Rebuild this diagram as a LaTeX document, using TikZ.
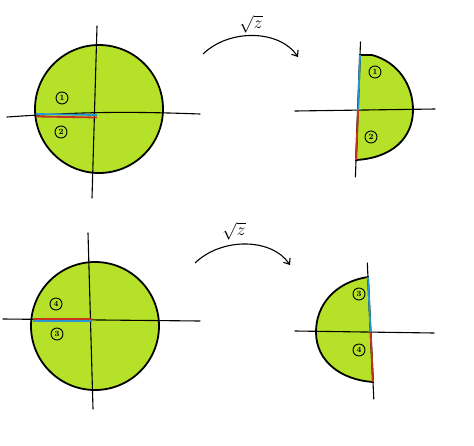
\documentclass[tikz,border=0pt]{standalone}
\usetikzlibrary{arrows.meta}
\definecolor{lime}{RGB}{181,226,40}
\definecolor{segblue}{RGB}{40,150,210}
\definecolor{segred}{RGB}{200,50,30}
\tikzset{
  disc/.style={fill=lime,draw=black,line width=1.8pt},
  axis/.style={draw=black,line width=1.1pt,line cap=round},
  bluseg/.style={draw=segblue,line width=1.8pt},
  redseg/.style={draw=segred,line width=1.8pt},
  num/.style={circle,draw=black,line width=0.9pt,inner sep=0.6pt,minimum size=12pt,font=\fontsize{8}{8}\selectfont\bfseries},
  maparrow/.style={draw=black,line width=1.1pt,-{Straight Barb[length=5pt,width=8pt]}},
  maplabel/.style={inner sep=0pt,font=\fontsize{17}{17}\selectfont}
}
\begin{document}
\begin{tikzpicture}[x=1pt,y=-1pt]
\useasboundingbox (0,0) rectangle (474,445);
% ---------- top left disc
\node[disc,circle,minimum size=128pt,inner sep=0pt] (d1) at (99,109) {};
\coordinate (h1l) at (7,117); \coordinate (h1r) at (200,114);
\coordinate (v1t) at (97,26); \coordinate (v1b) at (92,198);
\draw[axis] (h1l) to[bend left=3] (h1r);
\draw[axis] (v1t) -- (v1b);
\coordinate (e1b) at (36,114); \coordinate (o1b) at (97,115);
\coordinate (e1r) at (36,116.5); \coordinate (o1r) at (97,117.5);
\draw[bluseg] (e1b) -- (o1b);
\draw[redseg] (e1r) -- (o1r);
\node[num] (n1a) at (62,98) {1};
\node[num] (n1b) at (61,132) {2};
% ---------- top arrow
\coordinate (a1s) at (203,54); \coordinate (a1e) at (298,57);
\draw[maparrow] (a1s) .. controls (230,28) and (280,30) .. (a1e);
\node[maplabel] (l1) at (251,24) {$\sqrt{z}$};
% ---------- top right half disc
\coordinate (t1) at (360,55); \coordinate (b1) at (356,160); \coordinate (o2) at (358.1,110);
\path[disc] (t1) -- (372,55) .. controls (398,62) and (413,85) .. (413,110)
  .. controls (413,138) and (392,158) .. (b1) -- cycle;
\draw[axis] (295,111) -- (435,109);
\draw[axis] (360.5,42) -- (355.4,177);
\draw[bluseg] (t1) -- (o2);
\draw[redseg] (o2) -- (b1);
\node[num] (n2a) at (375,72) {1};
\node[num] (n2b) at (371,137) {2};
% ---------- bottom left disc
\node[disc,circle,minimum size=128pt,inner sep=0pt] (d3) at (95,326) {};
\draw[axis] (3,319) -- (200,321);
\draw[axis] (88,233) -- (93,409);
\coordinate (e3r) at (33,318.8); \coordinate (o3r) at (92,318.8);
\coordinate (e3b) at (33,321.3); \coordinate (o3b) at (92,321.3);
\draw[redseg] (e3r) -- (o3r);
\draw[bluseg] (e3b) -- (o3b);
\node[num] (n3a) at (56,304) {4};
\node[num] (n3b) at (57,334) {3};
% ---------- bottom arrow
\coordinate (a2s) at (195,263); \coordinate (a2e) at (290,265);
\draw[maparrow] (a2s) .. controls (222,237) and (272,238) .. (a2e);
\node[maplabel] (l2) at (234,231) {$\sqrt{z}$};
% ---------- bottom right half disc
\coordinate (t4) at (368,277); \coordinate (b4) at (373,382); \coordinate (o4) at (370.6,332);
\path[disc] (t4) .. controls (335,282) and (316,305) .. (316,332)
  .. controls (316,362) and (342,380) .. (b4) -- cycle;
\draw[axis] (295,331) -- (434,333);
\draw[axis] (367.3,263) -- (373.8,399);
\draw[bluseg] (t4) -- (o4);
\draw[redseg] (o4) -- (b4);
\node[num] (n4a) at (359,294) {3};
\node[num] (n4b) at (359,350) {4};
\end{tikzpicture}
\end{document}
